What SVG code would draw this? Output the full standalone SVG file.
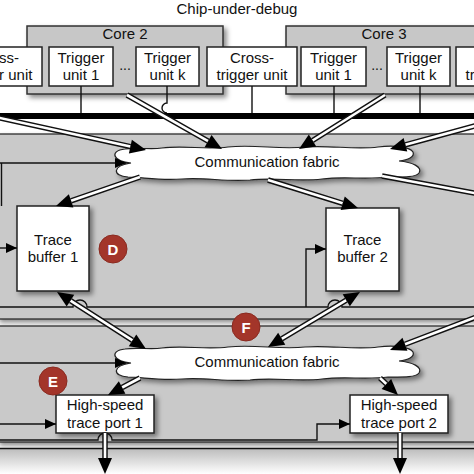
<svg xmlns="http://www.w3.org/2000/svg" width="474" height="474" viewBox="0 0 474 474">
<defs>
<style>
text{font-family:"Liberation Sans",Arial,sans-serif;font-size:15px;fill:#111;text-anchor:middle}
.core{fill:#c7c7c7;stroke:#333;stroke-width:1.5}
.box{fill:#fff;stroke:#222;stroke-width:1.5}
.panel{fill:#c9c9c9;stroke:#222;stroke-width:1.2}
.ln{fill:none;stroke:#111;stroke-width:1.4}
.dlo{fill:none;stroke:#111;stroke-width:5.5}
.dli{fill:none;stroke:#fff;stroke-width:2.6}
.hd{fill:#000}
.cloud{fill:#fff;stroke:#222;stroke-width:1.2}
.badge{fill:#a3352a;stroke:#8a2a20;stroke-width:1}
.bt{fill:#fff;font-weight:bold;font-size:15px}
</style>
<filter id="sh" x="-20%" y="-30%" width="150%" height="180%">
<feDropShadow dx="3" dy="3" stdDeviation="2.5" flood-color="#000" flood-opacity="0.45"/>
</filter>
<linearGradient id="fade" x1="0" y1="0" x2="0" y2="1">
<stop offset="0" stop-color="#bdbdbd"/>
<stop offset="1" stop-color="#fff"/>
</linearGradient>
<marker id="ah" markerUnits="userSpaceOnUse" markerWidth="11" markerHeight="10" refX="11" refY="5" orient="auto">
<path d="M0,0 L11,5 L0,10 z" fill="#000"/>
</marker>
<path id="cloudShape" d="M131,163 C114,162 108,151 125,149 C138,147 150,150 162,148 C185,145 205,150 228,147 C255,144 280,150 305,147 C330,145 355,150 378,147 C395,145 410,147 413,152 C415,157 408,160 399,161 C412,162 423,167 419,173 C415,178 400,177 388,177 C365,180 345,176 322,179 C297,182 275,177 250,180 C225,182 205,177 182,179 C160,181 142,177 128,177 C112,176 112,166 131,163 Z"/>
</defs>
<rect width="474" height="474" fill="#fff"/>

<g id="panels">
<rect class="panel" x="-3" y="134" width="480" height="185" filter="url(#sh)"/>
<rect class="panel" x="-3" y="326" width="480" height="116" filter="url(#sh)"/>
<rect x="0" y="449" width="474" height="25" fill="url(#fade)"/>
<line class="ln" x1="0" y1="448.5" x2="474" y2="448.5"/>
</g>

<text x="237" y="14">Chip-under-debug</text>

<g id="core2">
<rect class="core" x="27" y="26" width="196" height="68" filter="url(#sh)"/>
<text x="125" y="39">Core 2</text>
</g>
<g id="core3">
<rect class="core" x="286" y="26" width="200" height="68" filter="url(#sh)"/>
<text x="384" y="39">Core 3</text>
</g>

<g id="cross-trigger-left">
<rect class="box" x="-48" y="47" width="90" height="39"/>
<text x="-3" y="63">Cross-</text><text x="-3" y="80">trigger unit</text>
</g>
<g id="core2-trigger-1">
<rect class="box" x="49" y="47" width="64" height="39"/>
<text x="81" y="63">Trigger</text><text x="81" y="80">unit 1</text>
</g>
<text x="125" y="70" style="font-size:14px">...</text>
<g id="core2-trigger-k">
<rect class="box" x="136" y="47" width="63" height="39"/>
<text x="167.5" y="63">Trigger</text><text x="167.5" y="80">unit k</text>
</g>
<g id="cross-trigger-mid">
<rect class="box" x="207" y="47" width="90" height="39"/>
<text x="252" y="63">Cross-</text><text x="252" y="80">trigger unit</text>
</g>
<g id="core3-trigger-1">
<rect class="box" x="301" y="47" width="65" height="39"/>
<text x="333.5" y="63">Trigger</text><text x="333.5" y="80">unit 1</text>
</g>
<text x="377" y="70" style="font-size:14px">...</text>
<g id="core3-trigger-k">
<rect class="box" x="387" y="47" width="63" height="39"/>
<text x="418.5" y="63">Trigger</text><text x="418.5" y="80">unit k</text>
</g>
<g id="cross-trigger-right">
<rect class="box" x="456" y="47" width="90" height="39"/>
<text x="501" y="63">Cross-</text><text x="501" y="80">trigger unit</text>
</g>

<g id="fabric1">
<use href="#cloudShape" class="cloud" filter="url(#sh)"/>
<text x="267" y="167">Communication fabric</text>
</g>
<g id="fabric2">
<use href="#cloudShape" class="cloud" transform="translate(0,200)" filter="url(#sh)"/>
<text x="267" y="367">Communication fabric</text>
</g>

<g id="trace-buffer-1">
<rect class="box" x="17" y="206" width="72" height="85" filter="url(#sh)"/>
<text x="53" y="245">Trace</text><text x="53" y="262">buffer 1</text>
</g>
<g id="trace-buffer-2">
<rect class="box" x="326" y="208" width="73" height="83" filter="url(#sh)"/>
<text x="362.5" y="245">Trace</text><text x="362.5" y="262">buffer 2</text>
</g>
<g id="trace-port-1">
<rect class="box" x="56" y="395" width="98" height="38" filter="url(#sh)"/>
<text x="105" y="410">High-speed</text><text x="105" y="428">trace port 1</text>
</g>
<g id="trace-port-2">
<rect class="box" x="350" y="395" width="98" height="38" filter="url(#sh)"/>
<text x="399" y="410">High-speed</text><text x="399" y="428">trace port 2</text>
</g>

<g id="connectors">
<!-- trigger bus -->
<path class="ln" d="M81,86 V113 M167,86 V103 A5,5 0 0 0 167,113 M252,86 V113 M334,86 V113 M420,86 V113"/>
<rect x="0" y="113" width="474" height="6" fill="#000"/>
<!-- thin signal lines -->
<path class="ln" d="M0,163 H126" marker-end="url(#ah)"/>
<path class="ln" d="M1.5,163 V206"/>
<path class="ln" d="M0,248 H17" marker-end="url(#ah)"/>
<path class="ln" d="M0,307 H73 A7,7 0 0 1 87,307 H328 A7,7 0 0 1 342,307 H474"/>
<path class="ln" d="M306,307 V249 H326" marker-end="url(#ah)"/>
<path class="ln" d="M0,363 H126" marker-end="url(#ah)"/>
<path class="ln" d="M0,424 H56" marker-end="url(#ah)"/>
<path class="ln" d="M0,440 H98 A7,7 0 0 1 112,440 H317 V424 H350" marker-end="url(#ah)"/>
<!-- double-line connectors -->
<path class="dlo" d="M-2,117.6 L130.4,146.6 M127,95 L208.1,141.1 M385,95 L312.6,140.5 M476,125.5 L405.4,144.8 M140,177 L71.1,200.8 M268,180 L342.7,203.3 M382,176 L476,193.4 M70.5,300.6 L132.5,340.4 M346.3,300.2 L281.7,338.8 M476,317.2 L405,344.3 M140,378 L122.1,387.5 M380,378 L386.4,384 M105,433 V458 M400,433 V458"/>
<path class="dli" d="M-2,117.6 L130.4,146.6 M127,95 L208.1,141.1 M385,95 L312.6,140.5 M476,125.5 L405.4,144.8 M140,177 L71.1,200.8 M268,180 L342.7,203.3 M382,176 L476,193.4 M70.5,300.6 L132.5,340.4 M346.3,300.2 L281.7,338.8 M476,317.2 L405,344.3 M140,378 L122.1,387.5 M380,378 L386.4,384 M105,433 V458 M400,433 V458"/>
<polygon class="hd" points="146,150 128.87,153.41 131.87,139.73"/>
<polygon class="hd" points="222,149 204.63,147.18 211.55,135"/>
<polygon class="hd" points="299,149 308.83,134.56 316.27,146.42"/>
<polygon class="hd" points="390,149 403.58,138.02 407.28,151.52"/>
<polygon class="hd" points="56,206 68.84,194.16 73.4,207.4"/>
<polygon class="hd" points="358,208 340.64,209.93 344.8,196.57"/>
<polygon class="hd" points="57,292 66.69,306.52 74.25,294.74"/>
<polygon class="hd" points="146,349 128.75,346.26 136.31,334.48"/>
<polygon class="hd" points="360,292 342.68,294.2 349.86,306.22"/>
<polygon class="hd" points="268,347 278.14,332.78 285.32,344.8"/>
<polygon class="hd" points="390,350 402.46,337.76 407.44,350.84"/>
<polygon class="hd" points="108,395 118.85,381.31 125.41,393.67"/>
<polygon class="hd" points="398,395 381.56,389.1 391.18,378.92"/>
<polygon class="hd" points="105,474 98,458 112,458"/>
<polygon class="hd" points="400,474 393,458 407,458"/>
</g>

<g id="badge-D"><circle class="badge" cx="113" cy="249" r="14"/><text class="bt" x="113" y="254.5">D</text></g>
<g id="badge-E"><circle class="badge" cx="53" cy="381" r="14"/><text class="bt" x="53" y="386.5">E</text></g>
<g id="badge-F"><circle class="badge" cx="246" cy="327" r="14"/><text class="bt" x="246" y="332.5">F</text></g>
</svg>
